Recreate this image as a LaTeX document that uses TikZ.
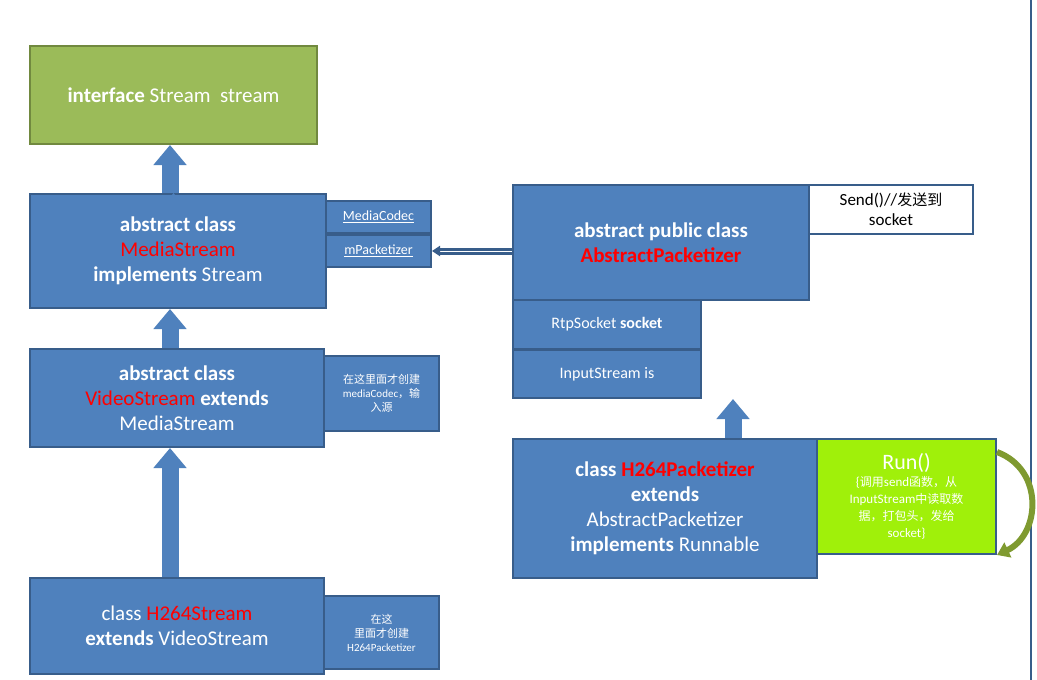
\documentclass[tikz,border=0pt]{standalone}
\usepackage{fontspec}
\setmainfont{Carlito}
\newfontfamily\cjk{Noto Sans CJK SC}
\usetikzlibrary{arrows.meta}
\definecolor{bfill}{HTML}{4F81BD}
\definecolor{bline}{HTML}{385D8A}
\definecolor{gfill}{HTML}{9BBB59}
\definecolor{gline}{HTML}{71893F}
\definecolor{lime}{HTML}{A0F00A}
\definecolor{curv}{HTML}{7F9A30}
\definecolor{rtxt}{HTML}{FF0000}
\tikzset{
 box/.style={draw=bline,line width=2pt,fill=bfill,text=white,align=center,inner sep=2pt,anchor=north west,font=\fontsize{21}{25}\selectfont},
 small/.style={box,font=\fontsize{14}{17}\selectfont},
 tiny/.style={box,font=\fontsize{11}{14}\selectfont},
 barrow/.style={draw=bfill,line width=17pt,-{Triangle[width=32pt,length=20pt]}},
}
\begin{document}
\begin{tikzpicture}[x=1pt,y=-1pt]
\useasboundingbox (0,0) rectangle (1037,680);
\fill[white] (0,0) rectangle (1037,680);
\draw[bline,line width=2pt] (1031,0) -- (1031,680);
\node[box,fill=gfill,draw=gline,minimum width=287pt,minimum height=98pt] (stream) at (29,45) {\textbf{interface} Stream\ \ stream};
\node[box,minimum width=296pt,minimum height=114pt] (media) at (29,193) {\textbf{abstract class}\\\textcolor{rtxt}{MediaStream}\\\textbf{implements} Stream};
\node[small,minimum width=105pt,minimum height=32pt] (codec) at (325,200) {\underline{MediaCodec}};
\node[small,minimum width=105pt,minimum height=32pt] (mpack) at (325,234) {\underline{mPacketizer}};
\node[box,minimum width=294pt,minimum height=98pt] (video) at (29,348) {\textbf{abstract class}\\\textcolor{rtxt}{VideoStream} \textbf{extends}\\MediaStream};
\node[tiny,minimum width=115pt,minimum height=75pt] (vnote) at (323,355) {{\cjk 在这里面才创建}\\mediaCodec{\cjk ，输}\\{\cjk 入源}};
\node[box,minimum width=294pt,minimum height=96pt] (h264s) at (29,577) {class \textcolor{rtxt}{H264Stream}\\\textbf{extends} VideoStream};
\node[tiny,minimum width=115pt,minimum height=73pt] (hnote) at (323,595) {{\cjk 在这}\\{\cjk 里面才创建}\\H264Packetizer};
\node[box,minimum width=296pt,minimum height=115pt] (abs) at (512,184) {\textbf{abstract public class}\\\textcolor{rtxt}{\textbf{AbstractPacketizer}}};
\node[box,fill=white,text=black,draw=bline,minimum width=164pt,minimum height=49pt,font=\fontsize{17}{20}\selectfont] (send) at (808,184) {Send()//{\cjk\fontsize{15}{20}\selectfont 发送到}\\socket};
\node[small,minimum width=188pt,minimum height=49pt,font=\fontsize{16}{19}\selectfont] (rtp) at (512,299) {RtpSocket \textbf{socket}};
\node[small,minimum width=188pt,minimum height=48pt,font=\fontsize{16}{19}\selectfont] (ins) at (512,349) {InputStream is};
\node[box,minimum width=304pt,minimum height=139pt] (h264p) at (512,438) {\textbf{class \textcolor{rtxt}{H264Packetizer}}\\\textbf{extends}\\AbstractPacketizer\\\textbf{implements} Runnable};
\node[box,fill=lime,minimum width=179pt,minimum height=115pt,font=\fontsize{13}{17}\selectfont] (run) at (816,438) {{\fontsize{22}{24}\selectfont Run()}\\\{{\cjk\fontsize{12}{16}\selectfont 调用}send{\cjk\fontsize{12}{16}\selectfont 函数，从}\\InputStream{\cjk\fontsize{12}{16}\selectfont 中读取数}\\{\cjk\fontsize{12}{16}\selectfont 据，打包头，发给}\\socket\}};
\draw[barrow] (media.north -| stream.south) ++(0,0) coordinate (a1);
\draw[barrow] (170,193) -- (stream.south -| 170,0);
\draw[barrow] (video.north -| 170,0) -- (media.south -| 170,0);
\draw[barrow] (h264s.north -| 170,0) -- (video.south -| 170,0);
\draw[barrow] (h264p.north -| 733,0) -- (ins.south -| 733,0);
\draw[bline,line width=3pt,double=white,double distance=1pt,-{Triangle[width=10pt,length=8pt]}] (abs.west |- mpack.east) -- (mpack.east);
\draw[curv,line width=6pt,-{Triangle[width=16pt,length=12pt]}] (run.north east) ++(0,14) coordinate (c1) .. controls (1045,470) and (1040,535) .. (run.south east);
\end{tikzpicture}
\end{document}
